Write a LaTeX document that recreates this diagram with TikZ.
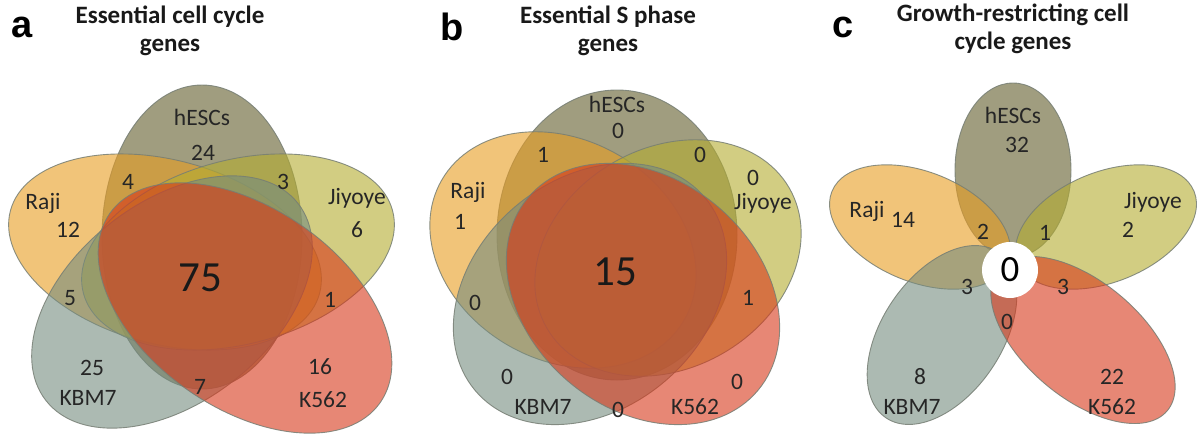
\documentclass[tikz,border=0pt]{standalone}
\usepackage{fontspec}
\setmainfont{Carlito}
\newfontfamily\letterfont{Liberation Sans}
\definecolor{hesc}{RGB}{97,92,43}
\definecolor{raji}{RGB}{233,157,33}
\definecolor{jiy}{RGB}{180,172,47}
\definecolor{kbm}{RGB}{117,140,127}
\definecolor{kfs}{RGB}{215,55,25}
\definecolor{edgec}{RGB}{118,126,116}
\begin{document}
\begin{tikzpicture}[x=1pt,y=-1pt,
  vset/.style={draw=edgec, line width=0.9pt, fill opacity=0.6, draw opacity=0.85},
  lbl/.style={font=\fontsize{23.5}{23.5}\selectfont, inner sep=0pt, text=black!85},
  big/.style={font=\fontsize{43}{43}\selectfont, inner sep=0pt, text=black!90},
  ttl/.style={font=\fontsize{25}{28}\selectfont\bfseries, align=center, inner sep=0pt, text=black!90},
  plet/.style={font=\fontsize{38}{38}\selectfont\letterfont\bfseries, inner sep=0pt}]
\useasboundingbox[fill=white] (0,0) rectangle (1200,434);

% ---------------- panel a ----------------
\filldraw[vset, fill=hesc, rotate around={90:(202,237)}] (202,237) ellipse [x radius=152, y radius=100];
\filldraw[vset, fill=raji, rotate around={-15:(165,252)}] (165,252) ellipse [x radius=160, y radius=92];
\filldraw[vset, fill=jiy, rotate around={15:(238,252)}] (238,252) ellipse [x radius=160, y radius=92];
\filldraw[vset, fill=kbm, rotate around={38:(172,302)}] (172,302) ellipse [x radius=160, y radius=100];
\filldraw[vset, fill=kfs, rotate around={-35:(245,308)}] (245,308) ellipse [x radius=165, y radius=100];

\node[plet] (la) at (22,27) {a};
\node[ttl] (ta) at (170,31) {Essential cell cycle\\genes};
\node[lbl] (a1) at (202,117) {hESCs};
\node[lbl] (a2) at (203,153) {24};
\node[lbl] (a3) at (128,182) {4};
\node[lbl] (a4) at (283,182) {3};
\node[lbl] (a5) at (43,203) {Raji};
\node[lbl] (a6) at (68,230) {12};
\node[lbl] (a7) at (357,198) {Jiyoye};
\node[lbl] (a8) at (357,230) {6};
\node[big] (a9) at (200,278) {75};
\node[lbl] (a10) at (70,298) {5};
\node[lbl] (a11) at (330,300) {1};
\node[lbl] (a12) at (92,368) {25};
\node[lbl] (a13) at (88,398) {KBM7};
\node[lbl] (a14) at (200,387) {7};
\node[lbl] (a15) at (320,367) {16};
\node[lbl] (a16) at (323,400) {K562};

% ---------------- panel b ----------------
\filldraw[vset, fill=hesc, rotate around={90:(617,235)}] (617,235) ellipse [x radius=145, y radius=120];
\filldraw[vset, fill=raji, rotate around={-30:(563,250)}] (563,250) ellipse [x radius=140, y radius=110];
\filldraw[vset, fill=jiy, rotate around={30:(668,258)}] (668,258) ellipse [x radius=140, y radius=110];
\filldraw[vset, fill=kbm, rotate around={40:(590,294)}] (590,294) ellipse [x radius=150, y radius=115];
\filldraw[vset, fill=kfs, rotate around={-40:(643,294)}] (643,294) ellipse [x radius=150, y radius=115];

\node[plet] (lb) at (452,27) {b};
\node[ttl] (tb) at (608,31) {Essential S phase\\genes};
\node[lbl] (b1) at (617,104) {hESCs};
\node[lbl] (b2) at (618,131) {0};
\node[lbl] (b3) at (543,155) {1};
\node[lbl] (b4) at (700,155) {0};
\node[lbl] (b5) at (753,178) {0};
\node[lbl] (b6) at (468,192) {Raji};
\node[lbl] (b7) at (763,203) {Jiyoye};
\node[lbl] (b8) at (460,222) {1};
\node[big] (b9) at (615,272) {15};
\node[lbl] (b10) at (475,303) {0};
\node[lbl] (b11) at (748,298) {1};
\node[lbl] (b12) at (507,377) {0};
\node[lbl] (b13) at (737,382) {0};
\node[lbl] (b14) at (543,407) {KBM7};
\node[lbl] (b15) at (618,410) {0};
\node[lbl] (b16) at (695,407) {K562};

% ---------------- panel c ----------------
\filldraw[vset, fill=hesc, rotate around={90:(1013,170)}] (1013,170) ellipse [x radius=87, y radius=58];
\filldraw[vset, fill=raji, rotate around={-22:(920,227)}] (920,227) ellipse [x radius=95, y radius=55];
\filldraw[vset, fill=jiy, rotate around={22:(1106,227)}] (1106,227) ellipse [x radius=95, y radius=55];
\filldraw[vset, fill=kbm, rotate around={56:(942,335)}] (942,335) ellipse [x radius=100, y radius=60];
\filldraw[vset, fill=kfs, rotate around={-40:(1083,340)}] (1083,340) ellipse [x radius=110, y radius=58];
\fill[white] (1010,270) circle [radius=28];

\node[plet] (lc) at (843,27) {c};
\node[ttl] (tc) at (1013,29) {Growth-restricting cell\\cycle genes};
\node[lbl] (c1) at (1013,115) {hESCs};
\node[lbl] (c2) at (1017,145) {32};
\node[lbl] (c3) at (867,211) {Raji};
\node[lbl] (c4) at (903,220) {14};
\node[lbl] (c5) at (983,232) {2};
\node[lbl] (c6) at (1045,233) {1};
\node[lbl] (c7) at (1153,202) {Jiyoye};
\node[lbl] (c8) at (1128,230) {2};
\node[font=\fontsize{37}{37}\selectfont, inner sep=0pt] (c9) at (1010,270) {0};
\node[lbl] (c10) at (967,287) {3};
\node[lbl] (c11) at (1063,287) {3};
\node[lbl] (c12) at (1007,322) {0};
\node[lbl] (c13) at (920,377) {8};
\node[lbl] (c14) at (912,407) {KBM7};
\node[lbl] (c15) at (1112,377) {22};
\node[lbl] (c16) at (1112,407) {K562};
\end{tikzpicture}
\end{document}
